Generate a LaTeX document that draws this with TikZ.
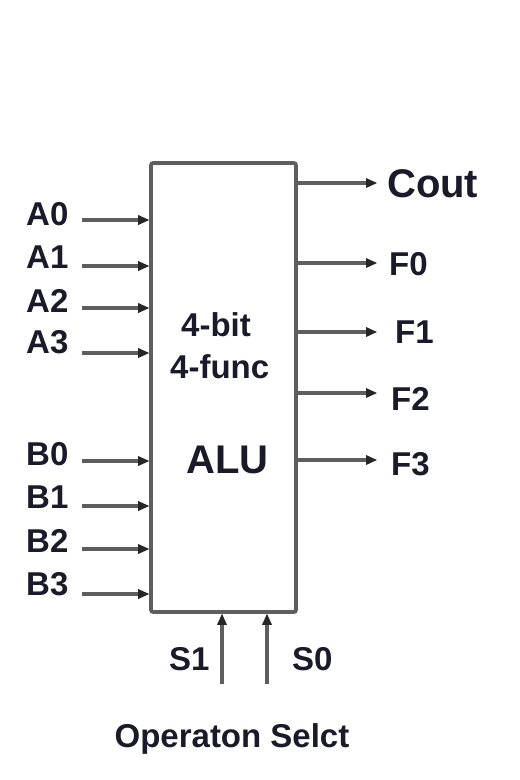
\documentclass[tikz,border=0pt]{standalone}
\usepackage{fontspec}
\setmainfont{Liberation Sans}
\usetikzlibrary{arrows.meta}
\definecolor{linegray}{HTML}{5E5E5E}
\definecolor{headgray}{HTML}{262626}
\definecolor{textcol}{HTML}{1A1A2A}
\tikzset{
  sig/.style={draw=linegray, line width=3.2pt, -{Triangle[length=11pt,width=10pt,color=headgray,fill=headgray,line width=0pt]}},
  lbl/.style={inner sep=0pt, anchor=base west, text=textcol, font=\fontsize{33}{38}\selectfont\bfseries},
  biglbl/.style={inner sep=0pt, anchor=base west, text=textcol, font=\fontsize{40}{46}\selectfont\bfseries},
  alubox/.style={draw=linegray, line width=3.6pt, rounded corners=2pt, minimum width=145pt, minimum height=449pt, inner sep=0pt}
}
\begin{document}
\begin{tikzpicture}[x=1pt,y=-1pt]
\useasboundingbox (0,0) rectangle (520,780);
\node[alubox] (box) at (223.5,387.5) {};
% inner text
\node[lbl] (t1) at (181,336) {4-bit};
\node[lbl] (t2) at (170,378) {4-func};
\node[biglbl] (t3) at (186,473) {ALU};
% input coordinates
\coordinate (a0) at (82,220);
\coordinate (a1) at (82,266);
\coordinate (a2) at (82,308);
\coordinate (a3) at (82,353);
\coordinate (b0) at (82,461);
\coordinate (b1) at (82,506);
\coordinate (b2) at (82,549);
\coordinate (b3) at (82,594);
\foreach \c in {a0,a1,a2,a3,b0,b1,b2,b3}{
  \draw[sig] (\c) -- (\c -| box.west);
}
\node[lbl] (la0) at (26,225) {A0};
\node[lbl] (la1) at (26,268) {A1};
\node[lbl] (la2) at (26,312) {A2};
\node[lbl] (la3) at (26,353) {A3};
\node[lbl] (lb0) at (26,465) {B0};
\node[lbl] (lb1) at (26,508) {B1};
\node[lbl] (lb2) at (26,552) {B2};
\node[lbl] (lb3) at (26,595) {B3};
% outputs
\coordinate (oc) at (377,183);
\coordinate (o0) at (377,263);
\coordinate (o1) at (377,332);
\coordinate (o2) at (377,393);
\coordinate (o3) at (377,460);
\foreach \c in {oc,o0,o1,o2,o3}{
  \draw[sig] (\c -| box.east) -- (\c);
}
\node[biglbl] (lc) at (387,197) {Cout};
\node[lbl] (lf0) at (389,275) {F0};
\node[lbl] (lf1) at (395,343) {F1};
\node[lbl] (lf2) at (391,410) {F2};
\node[lbl] (lf3) at (391,475) {F3};
% selects
\coordinate (s1) at (222,684);
\coordinate (s0) at (267,684);
\draw[sig] (s1) -- (s1 |- box.south);
\draw[sig] (s0) -- (s0 |- box.south);
\node[lbl] (ls1) at (169,670) {S1};
\node[lbl] (ls0) at (292,670) {S0};
\node[lbl, anchor=base] (op) at (232,747) {Operaton Selct};
\end{tikzpicture}
\end{document}
